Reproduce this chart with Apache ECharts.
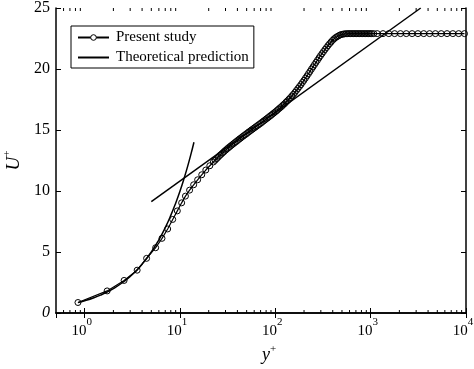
<!DOCTYPE html>
<html><head><meta charset="utf-8">
<script src="https://cdn.jsdelivr.net/npm/echarts@6/dist/echarts.min.js"></script>
<style>html,body{margin:0;padding:0;background:#fff}#c{width:474px;height:369px}</style>
</head><body><div id="c"></div>
<script>
// Present study
const presentYPlus = [0.85,1.72,2.59,3.55,4.46,5.55,6.47,7.42,8.38,9.37,10.4,11.4,12.6,13.9,15.3,16.9,
  18.64,20.54,22.41,23.36,24.23,25.12,26.05,27.02,28.03,29.06,30.13,31.24,32.39,33.60,34.84,36.14,37.47,38.86,40.30,41.80,43.34,44.95,46.60,48.33,
  50.12,51.97,53.90,55.89,57.97,60.10,62.33,64.64,67.04,69.51,72.10,74.76,77.54,80.40,83.39,86.46,89.69,92.99,96.43,100.0,
  103.7,107.5,111.5,115.7,119.9,124.4,129.0,133.8,138.7,143.9,149.2,154.7,160.4,166.4,172.5,178.9,185.5,192.4,199.5,207.0,
  214.6,222.6,230.8,239.3,248.1,257.4,266.8,276.8,287.1,297.7,308.7,320.1,331.9,344.3,356.9,370.3,383.9,398.1,412.9,428.1,
  444.0,460.5,477.5,495.2,513.5,532.5,552.3,572.7,593.9,615.9,638.7,662.3,686.8,712.2,738.6,766.0,794.3,823.8,854.2,885.8,
  918.6,952.6,987.9,1024,1076,1171,
  1347,1550,1784,2054,2364,2720,3132,3605,4149,4775,5495,6326,7280,8379,9643];
const presentU = [0.86,1.81,2.67,3.51,4.48,5.35,6.12,6.89,7.67,8.37,9.03,9.58,10.07,10.51,10.92,11.33,
  11.72,12.07,12.38,12.52,12.65,12.77,12.90,13.01,13.13,13.24,13.35,13.46,13.56,13.66,13.76,13.86,13.96,14.05,14.15,14.25,14.34,14.44,14.53,14.62,
  14.71,14.81,14.90,14.99,15.08,15.17,15.26,15.35,15.44,15.53,15.62,15.72,15.81,15.91,16.00,16.10,16.19,16.29,16.39,16.49,
  16.59,16.70,16.81,16.91,17.03,17.14,17.27,17.39,17.52,17.65,17.79,17.93,18.08,18.24,18.40,18.56,18.72,18.90,19.07,19.25,
  19.43,19.62,19.80,19.99,20.17,20.36,20.54,20.72,20.91,21.09,21.26,21.43,21.60,21.76,21.92,22.07,22.21,22.35,22.47,22.57,
  22.65,22.72,22.79,22.83,22.86,22.88,22.89,22.9,22.9,22.9,22.9,22.9,22.9,22.9,22.9,22.9,22.9,22.9,22.9,22.9,
  22.9,22.9,22.9,22.9,22.9,22.9,
  22.9,22.9,22.9,22.9,22.9,22.9,22.9,22.9,22.9,22.9,22.9,22.9,22.9,22.9,22.9];
// Theoretical prediction: viscous sublayer and log law
const viscousYPlus = [0.85,1,1.25,1.5,1.75,2,2.5,3,3.5,4,5,6,7,8,9,10,11,12,13,14];
const viscousU     = [0.85,1,1.25,1.5,1.75,2,2.5,3,3.5,4,5,6,7,8,9,10,11,12,13,14];
const logLawYPlus = [5.0, 3350];
const logLawU = [9.13, 25];
// Axis ticks
const xMinorTicks = [0.6,0.7,0.8,0.9,2,3,4,5,6,7,8,9,20,30,40,50,60,70,80,90,200,300,400,500,600,700,800,900,2000,3000,4000,5000,6000,7000,8000,9000];
const xMin = 0.5, xMax = 10000;
const yMin = 0, yMax = 25, yStep = 5;

const zip = (a, b) => a.map((v, i) => [v, b[i]]);
const FONT = 'Liberation Serif';
const chart = echarts.init(document.getElementById('c'), null, {renderer: 'canvas'});

const xLabelFmt = v => {
  const e = Math.log10(v), r = Math.round(e);
  if (Math.abs(e - r) > 1e-6) return '';
  return '{b|10}{s|' + r + '}';
};
const xRich = {
  b: {fontFamily: FONT, fontSize: 15, color: '#000', verticalAlign: 'bottom', lineHeight: 15},
  s: {fontFamily: FONT, fontSize: 11, color: '#000', verticalAlign: 'bottom', lineHeight: 11, padding: [0, 0, 11, 0]}
};
const axisBase = {
  axisLine: {show: true, lineStyle: {color: '#000', width: 1.5}},
  splitLine: {show: false},
};

chart.setOption({
  animation: false,
  backgroundColor: '#fff',
  grid: {left: 56, right: 8, top: 8, bottom: 56, containLabel: false, outerBoundsMode: 'none'},
  legend: {
    left: 71, top: 26, orient: 'vertical',
    itemWidth: 31, itemHeight: 7, itemGap: 5,
    borderColor: '#000', borderWidth: 1, borderRadius: 0,
    padding: [4, 5, 3, 6],
    textStyle: {fontFamily: FONT, fontSize: 15, color: '#000', padding: [0, 0, 0, 2]},
    data: [
      {name: 'Present study', itemStyle: {color: '#fff', borderColor: '#000', borderWidth: 1}},
      {name: 'Theoretical prediction', itemStyle: {color: 'rgba(0,0,0,0)', borderWidth: 0}}
    ]
  },
  xAxis: [
    Object.assign({
      type: 'log', logBase: 10, min: xMin, max: xMax, position: 'bottom',
      axisTick: {show: true, inside: true, length: 5, lineStyle: {color: '#000'}},
      axisLabel: {formatter: xLabelFmt, rich: xRich, margin: 11, showMinLabel: false, padding: [0, 6, 0, 0]},
      name: '{i|y}{s|+}', nameLocation: 'middle', nameGap: 32,
      nameTextStyle: {rich: {
        i: {fontFamily: FONT, fontStyle: 'italic', fontSize: 18, color: '#000', verticalAlign: 'bottom', lineHeight: 18},
        s: {fontFamily: FONT, fontSize: 11, color: '#000', verticalAlign: 'bottom', lineHeight: 11, padding: [0, 0, 9, 0]}
      }, padding: [0, 0, 0, 16]}
    }, axisBase),
    Object.assign({
      type: 'log', logBase: 10, min: xMin, max: xMax, position: 'top',
      axisTick: {show: true, inside: true, length: 5, lineStyle: {color: '#000'}},
      axisLabel: {show: false}
    }, axisBase)
  ],
  yAxis: [
    Object.assign({
      type: 'value', min: yMin, max: yMax, interval: yStep, position: 'left',
      axisTick: {show: true, inside: true, length: 5, lineStyle: {color: '#000'}},
      axisLabel: {
        margin: 6, fontFamily: FONT, fontSize: 16, color: '#000',
        formatter: v => v === 0 ? '{it|0}' : String(v),
        rich: {it: {fontFamily: FONT, fontStyle: 'italic', fontSize: 16, color: '#000'}}
      },
      name: '{i|U}{s|+}', nameLocation: 'middle', nameGap: 29,
      nameTextStyle: {rich: {
        i: {fontFamily: FONT, fontStyle: 'italic', fontSize: 19, color: '#000', verticalAlign: 'bottom', lineHeight: 19},
        s: {fontFamily: FONT, fontSize: 11, color: '#000', verticalAlign: 'bottom', lineHeight: 11, padding: [0, 0, 10, 0]}
      }}
    }, axisBase),
    Object.assign({
      type: 'value', min: yMin, max: yMax, interval: yStep, position: 'right',
      axisTick: {show: true, inside: true, length: 5, lineStyle: {color: '#000'}},
      axisLabel: {show: false}
    }, axisBase)
  ],
  series: [
    {
      name: 'Present study', type: 'line', data: zip(presentYPlus, presentU),
      symbol: 'circle', symbolSize: 6, showAllSymbol: true,
      itemStyle: {color: 'rgba(255,255,255,0)', borderColor: '#000', borderWidth: 1},
      lineStyle: {color: '#000', width: 1.2},
      z: 3
    },
    {
      name: 'Theoretical prediction', type: 'line', data: zip(viscousYPlus, viscousU),
      symbol: 'none', smooth: true, itemStyle: {color: '#000'},
      lineStyle: {color: '#000', width: 1.5}, z: 4
    },
    {
      name: 'Theoretical prediction', type: 'line', data: zip(logLawYPlus, logLawU),
      symbol: 'none', itemStyle: {color: '#000'},
      lineStyle: {color: '#000', width: 1.5}, z: 4
    },
    {
      name: 'minorTicks', type: 'custom', silent: true, z: 5,
      data: xMinorTicks.map(v => [v, 1]),
      encode: {x: 0, y: 1},
      clip: false,
      renderItem: (params, api) => {
        const x = api.coord([api.value(0), 1])[0];
        const cs = params.coordSys;
        const yb = cs.y + cs.height, yt = cs.y;
        return {type: 'group', children: [
          {type: 'line', shape: {x1: x, y1: yb, x2: x, y2: yb - 3}, style: {stroke: '#000', lineWidth: 1}},
          {type: 'line', shape: {x1: x, y1: yt, x2: x, y2: yt + 3}, style: {stroke: '#000', lineWidth: 1}}
        ]};
      }
    }
  ]
});
</script></body></html>
